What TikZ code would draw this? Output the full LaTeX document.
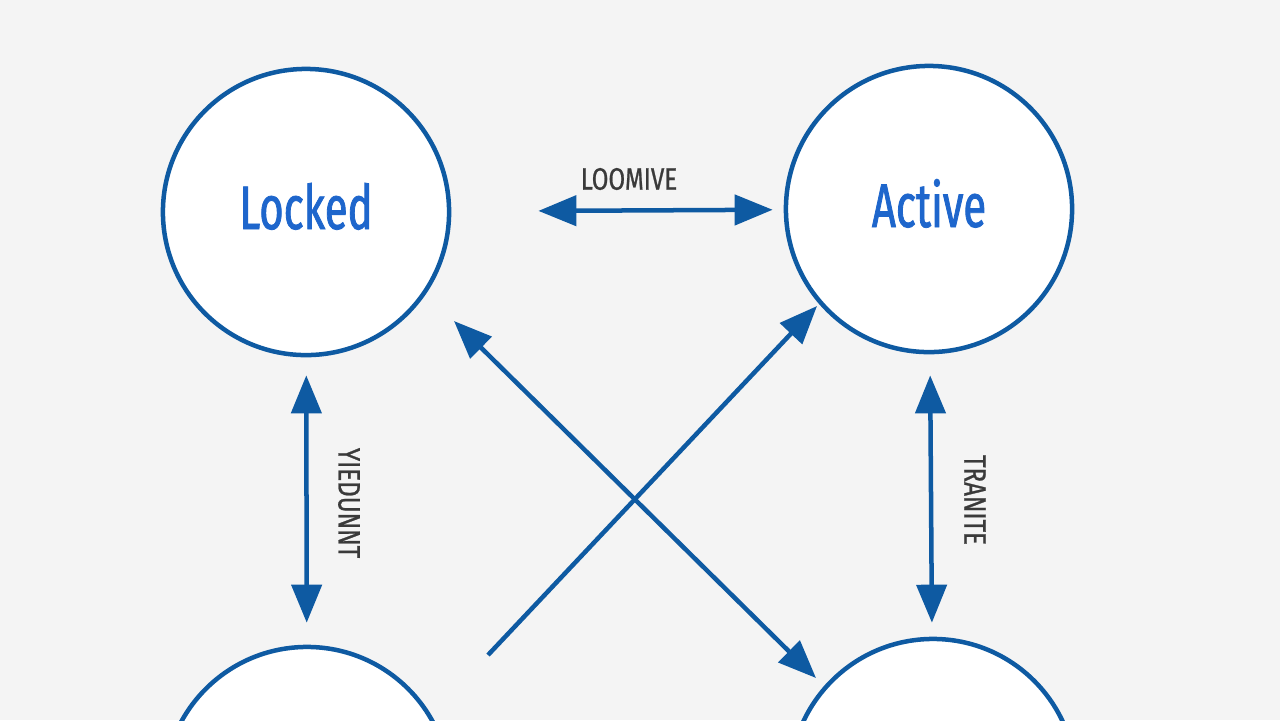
\documentclass[tikz,border=0pt]{standalone}
\usepackage{fontspec}
\usetikzlibrary{arrows.meta}
\newfontfamily\statefont[FakeStretch=0.68,FakeBold=1.3]{Fira Sans}
\newfontfamily\notefont[FakeStretch=0.78,FakeBold=0.8]{Fira Sans}
\definecolor{bgcol}{HTML}{F4F4F4}
\definecolor{ringblue}{HTML}{0E5AA2}
\definecolor{textblue}{HTML}{1E66CC}
\definecolor{notegray}{HTML}{3A3A3A}
\tikzset{
  statenode/.style={circle, draw=ringblue, fill=white, line width=0.045cm,
    minimum size=2.86cm, inner sep=0pt, text=textblue, text depth=0.12cm,
    font=\statefont\fontsize{17.5}{20}\selectfont},
  link/.style={draw=ringblue, line width=0.045cm,
    -{Triangle[length=0.38cm,width=0.3cm]}},
  twoway/.style={link, {Triangle[length=0.38cm,width=0.3cm]}-{Triangle[length=0.38cm,width=0.3cm]}},
  note/.style={text=notegray, inner sep=0pt,
    font=\notefont\fontsize{8.8}{9}\selectfont}
}
\begin{document}
\begin{tikzpicture}[x=0.01cm, y=-0.01cm]
    % Background
    \fill[bgcol] (0,0) rectangle (1280,720);
    \useasboundingbox (0,0) rectangle (1280,720);
    \clip (0,0) rectangle (1280,720);

    % States
    \node[statenode] (locked) at (306,212) {Locked};
    \node[statenode] (active) at (929,209) {Active};
    \node[statenode] (lowleft) at (307,790) {};
    \node[statenode] (lowright) at (933,782) {};

    % Free ends of the crossing links
    \coordinate (crossa) at (454,321);
    \coordinate (crossb) at (816,678);
    \coordinate (crossc) at (488,655);
    \coordinate (crossd) at (817,306);

    % Links
    \draw[twoway, shorten <=0.87cm, shorten >=0.11cm] (locked) -- (active);
    \draw[twoway, shorten <=0.18cm, shorten >=0.22cm] (locked) -- (lowleft);
    \draw[twoway, shorten <=0.21cm, shorten >=0.14cm] (active) -- (lowright);
    \draw[twoway] (crossa) -- (crossb);
    \draw[link] (crossc) -- (crossd);

    % Link labels
    \node[note] (toplabel) at (629,179) {LOOMIVE};
    \node[note, rotate=-90] (leftlabel) at (349,503) {YIEDUNNT};
    \node[note, rotate=-90] (rightlabel) at (975,500) {TRANITE};

\end{tikzpicture}
\end{document}
